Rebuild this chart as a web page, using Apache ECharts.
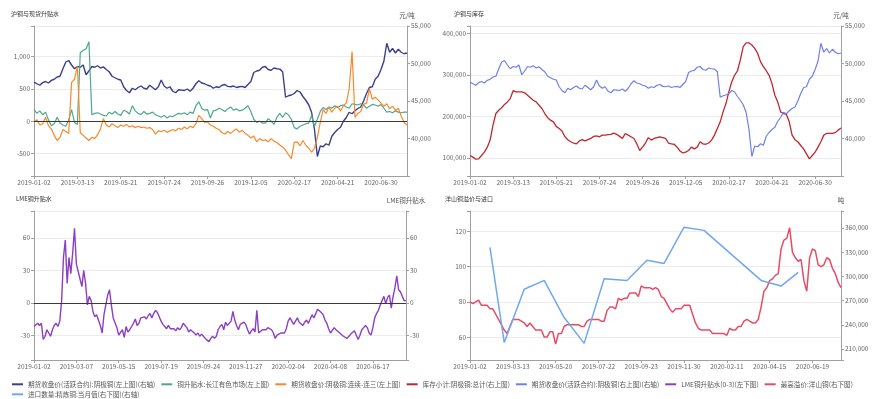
<!DOCTYPE html>
<html><head><meta charset="utf-8">
<script src="https://cdn.jsdelivr.net/npm/echarts@6/dist/echarts.min.js"></script>
<style>html,body{margin:0;padding:0;background:#fff}#c{width:884px;height:399px}</style>
</head><body><div id="c"></div><script>
// ---------- data ----------
const tradeDates = ['2019-01-02','2019-01-07','2019-01-10','2019-01-15','2019-01-18','2019-01-23','2019-01-28','2019-01-31','2019-02-12','2019-02-15','2019-02-20','2019-02-25','2019-02-28','2019-03-05','2019-03-08','2019-03-13','2019-03-18','2019-03-21','2019-03-26','2019-03-29','2019-04-03','2019-04-09','2019-04-12','2019-04-17','2019-04-22','2019-04-25','2019-04-30','2019-05-08','2019-05-13','2019-05-16','2019-05-21','2019-05-24','2019-05-29','2019-06-03','2019-06-06','2019-06-12','2019-06-17','2019-06-20','2019-06-25','2019-06-28','2019-07-03','2019-07-08','2019-07-11','2019-07-16','2019-07-19','2019-07-24','2019-07-29','2019-08-01','2019-08-06','2019-08-09','2019-08-14','2019-08-19','2019-08-22','2019-08-27','2019-08-30','2019-09-04','2019-09-09','2019-09-12','2019-09-18','2019-09-23','2019-09-26','2019-10-08','2019-10-11','2019-10-16','2019-10-21','2019-10-24','2019-10-29','2019-11-01','2019-11-06','2019-11-11','2019-11-14','2019-11-19','2019-11-22','2019-11-27','2019-12-02','2019-12-05','2019-12-10','2019-12-13','2019-12-18','2019-12-23','2019-12-26','2019-12-31','2020-01-06','2020-01-09','2020-01-14','2020-01-17','2020-01-22','2020-02-04','2020-02-07','2020-02-12','2020-02-17','2020-02-20','2020-02-25','2020-02-28','2020-03-04','2020-03-09','2020-03-12','2020-03-17','2020-03-20','2020-03-25','2020-03-30','2020-04-02','2020-04-08','2020-04-13','2020-04-16','2020-04-21','2020-04-24','2020-04-29','2020-05-07','2020-05-12','2020-05-15','2020-05-20','2020-05-25','2020-05-28','2020-06-02','2020-06-05','2020-06-10','2020-06-15','2020-06-18','2020-06-23','2020-06-30','2020-07-03','2020-07-08','2020-07-13','2020-07-16','2020-07-21','2020-07-24','2020-07-29','2020-08-03','2020-08-06'];

// 期货收盘价(活跃合约):阴极铜 (元/吨)
const futuresClose = [47530,47300,47100,47450,47600,47400,47750,47900,48200,48300,
49300,50200,50400,49800,49300,49600,49500,49800,48500,49000,
49600,49500,49700,49400,49550,49200,48900,48300,48100,47900,
47800,46900,46400,46100,46700,46500,46800,47000,46700,46600,
47100,46800,46500,46900,47800,47000,46700,46900,46300,46100,
46500,46450,46400,46600,46300,46700,47300,47700,47400,47300,
47100,47000,46700,46900,46800,47100,47200,46950,46900,47000,
46800,46900,46950,46800,47200,47600,48800,49000,49100,49500,
49600,49200,49100,49400,49300,49250,48900,45500,45700,45800,
46000,46400,46200,45600,45100,44500,43500,41200,37600,39000,
38900,39300,39100,40300,40800,41200,41500,42300,42800,43500,
43300,43700,44000,44200,45000,46000,46800,46900,47900,48300,
49200,50300,52700,51500,52000,51400,51900,51500,51300,51400];

// 铜升贴水:长江有色市场
const spotPremium = [180,120,160,100,140,20,-70,-40,60,-30,
-60,-80,20,180,-20,-50,1060,1100,1120,1230,
100,120,130,110,90,80,140,110,150,110,
90,170,150,110,240,160,120,100,150,110,
120,140,100,80,60,90,50,80,70,100,
120,110,130,100,140,120,240,300,200,170,
180,50,160,170,200,180,150,190,220,170,
190,160,170,200,240,150,30,-20,0,-30,
-30,40,0,-50,60,120,60,130,100,30,
-100,-120,-80,-60,-40,-30,90,-80,30,150,
210,180,220,200,240,210,240,250,220,200,
270,260,250,270,250,200,230,260,250,230,
260,200,140,150,130,160,140,130,140,140];

// 期货收盘价:阴极铜:连续-连三
const calendarSpread = [-10,20,-60,-40,60,-70,-120,-220,-300,-250,
-130,-160,-190,600,650,850,-180,-220,-260,-300,
-250,-270,-210,-120,40,-60,-90,-40,-70,-100,
-60,-80,-50,-90,-70,-100,-80,-100,-90,-110,
-100,-130,-200,-150,-160,-140,-170,-150,-130,-150,
-110,-130,-90,-120,-80,-100,-40,90,40,-20,
-10,-60,-80,-110,-130,-180,-200,-160,-190,-150,
-120,-170,-140,-190,-220,-260,-230,-320,-270,-300,
-290,-320,-270,-310,-330,-370,-400,-450,-520,-580,
-330,-320,-380,-300,-370,-420,-480,-420,-250,-20,
180,120,220,140,200,230,160,240,280,500,
1080,60,120,150,260,280,500,340,370,330,
280,230,270,190,230,170,200,80,-20,-60];

// 库存小计:阴极铜:总计 (吨)
const inventory = [106000,102000,97000,98000,106000,114000,126000,143000,179000,207000,
215000,221000,229000,235000,243000,262000,259000,259000,259000,257000,
251000,245000,239000,235000,227000,219000,207000,197000,191000,187000,
176000,171000,165000,151000,144000,139000,136000,134000,141000,144000,
141000,144000,147000,152000,153000,151000,155000,155000,156000,157000,
160000,157000,152000,147000,159000,155000,151000,147000,134000,118000,
126000,136000,149000,143000,147000,149000,151000,149000,147000,136000,
134000,133000,126000,117000,112000,114000,118000,126000,122000,126000,
139000,134000,133000,136000,143000,155000,171000,187000,211000,231000,
259000,283000,299000,310000,336000,368000,377000,377000,372000,364000,
352000,332000,320000,310000,299000,279000,251000,235000,211000,207000,
205000,187000,155000,144000,139000,130000,122000,110000,98000,106000,
114000,126000,139000,155000,159000,159000,159000,161000,167000,172000];

const lmeDates = ['2019-01-02','2019-01-04','2019-01-08','2019-01-10','2019-01-14','2019-01-16','2019-01-18','2019-01-22','2019-01-24','2019-01-28','2019-01-30',
'2019-02-01','2019-02-05','2019-02-07','2019-02-11','2019-02-13','2019-02-15','2019-02-19','2019-02-21','2019-02-25','2019-02-27',
'2019-03-01','2019-03-05','2019-03-07','2019-03-11','2019-03-13','2019-03-15','2019-03-19','2019-03-21','2019-03-25','2019-03-27','2019-03-29',
'2019-04-02','2019-04-04','2019-04-08','2019-04-10','2019-04-12','2019-04-16','2019-04-18','2019-04-24','2019-04-26','2019-04-30',
'2019-05-02','2019-05-07','2019-05-09','2019-05-13','2019-05-15','2019-05-17','2019-05-21','2019-05-23','2019-05-28','2019-05-30',
'2019-06-03','2019-06-05','2019-06-07','2019-06-11','2019-06-13','2019-06-17','2019-06-19','2019-06-21','2019-06-25','2019-06-27',
'2019-07-01','2019-07-03','2019-07-05','2019-07-09','2019-07-11','2019-07-15','2019-07-17','2019-07-19','2019-07-23','2019-07-25','2019-07-29','2019-07-31',
'2019-08-02','2019-08-06','2019-08-08','2019-08-12','2019-08-14','2019-08-16','2019-08-20','2019-08-22','2019-08-27','2019-08-29',
'2019-09-02','2019-09-04','2019-09-06','2019-09-10','2019-09-12','2019-09-16','2019-09-18','2019-09-20','2019-09-24','2019-09-26','2019-09-30',
'2019-10-02','2019-10-04','2019-10-08','2019-10-10','2019-10-14','2019-10-16','2019-10-18','2019-10-22','2019-10-24','2019-10-28','2019-10-30',
'2019-11-01','2019-11-05','2019-11-07','2019-11-11','2019-11-13','2019-11-15','2019-11-19','2019-11-21','2019-11-25','2019-11-27','2019-11-29',
'2019-12-03','2019-12-05','2019-12-09','2019-12-11','2019-12-13','2019-12-17','2019-12-19','2019-12-23','2019-12-27','2019-12-31',
'2020-01-03','2020-01-07','2020-01-09','2020-01-13','2020-01-15','2020-01-17','2020-01-21','2020-01-23','2020-01-27','2020-01-29','2020-01-31',
'2020-02-04','2020-02-06','2020-02-10','2020-02-12','2020-02-14','2020-02-18','2020-02-20','2020-02-24','2020-02-26','2020-02-28',
'2020-03-03','2020-03-05','2020-03-09','2020-03-11','2020-03-13','2020-03-17','2020-03-19','2020-03-23','2020-03-25','2020-03-27','2020-03-31',
'2020-04-02','2020-04-06','2020-04-08','2020-04-14','2020-04-16','2020-04-20','2020-04-22','2020-04-24','2020-04-28','2020-04-30',
'2020-05-04','2020-05-06','2020-05-11','2020-05-13','2020-05-15','2020-05-19','2020-05-21','2020-05-26','2020-05-28',
'2020-06-01','2020-06-03','2020-06-05','2020-06-09','2020-06-11','2020-06-15','2020-06-17','2020-06-19','2020-06-23','2020-06-25','2020-06-29',
'2020-07-01','2020-07-03','2020-07-07','2020-07-09','2020-07-13','2020-07-15','2020-07-17','2020-07-21','2020-07-23','2020-07-27','2020-07-29','2020-07-31',
'2020-08-04','2020-08-06'];

// LME铜升贴水(0-3)
const lmeSpread = [-22,-21,-19,-21,-19,-34,-31,-25,-28,-31,
-25,-21,-19,-22,-17,2,42,58,18,42,
27,46,69,36,29,29,15,30,18,-2,
6,2,-8,-13,-11,-16,-21,-28,-11,-2,
7,12,-2,-14,-13,-23,-30,-31,-25,-32,
-22,-27,-25,-22,-19,-15,-21,-19,-14,-14,
-13,-15,-12,-10,-14,-10,-7,-9,-10,-17,
-20,-22,-24,-21,-24,-25,-24,-26,-23,-25,
-23,-19,-18,-23,-27,-25,-25,-28,-30,-28,
-31,-29,-31,-33,-34,-36,-33,-31,-33,-31,
-25,-22,-20,-25,-18,-21,-21,-17,-8,-16,
-21,-25,-20,-19,-18,-20,-25,-29,-26,-24,
-27,-7,-28,-29,-25,-24,-25,-23,-22,-25,
-28,-33,-30,-31,-28,-29,-28,-24,-17,-14,
-13,-20,-21,-14,-18,-18,-21,-18,-16,-19,
-15,-11,-14,-15,-6,-6,-9,-11,-16,-19,
-24,-28,-29,-23,-25,-26,-28,-29,-31,-31,
-33,-31,-29,-28,-26,-30,-34,-30,-25,-23,
-21,-23,-28,-30,-23,-14,-10,-7,-2,2,
6,-1,5,7,-5,6,14,25,12,10,
9,2,2];

const premiumDates = ['2019-01-02','2019-01-07','2019-01-10','2019-01-15','2019-01-18','2019-01-23','2019-01-28','2019-01-31',
'2019-02-12','2019-02-15','2019-02-20','2019-02-25','2019-02-28',
'2019-03-05','2019-03-08','2019-03-13','2019-03-18','2019-03-21','2019-03-26','2019-03-31',
'2019-04-02','2019-04-08','2019-04-11','2019-04-16','2019-04-19','2019-04-24','2019-04-30',
'2019-05-07','2019-05-10','2019-05-15','2019-05-20','2019-05-23','2019-05-28','2019-05-31',
'2019-06-05','2019-06-11','2019-06-14','2019-06-19','2019-06-24','2019-06-27','2019-06-30',
'2019-07-04','2019-07-09','2019-07-12','2019-07-17','2019-07-22','2019-07-25','2019-07-31',
'2019-08-02','2019-08-07','2019-08-12','2019-08-15','2019-08-20','2019-08-23','2019-08-28','2019-08-31',
'2019-09-04','2019-09-09','2019-09-12','2019-09-18','2019-09-23','2019-09-26','2019-09-30',
'2019-10-11','2019-10-16','2019-10-21','2019-10-24','2019-10-29','2019-10-31',
'2019-11-06','2019-11-11','2019-11-14','2019-11-19','2019-11-22','2019-11-27','2019-11-30',
'2019-12-04','2019-12-09','2019-12-12','2019-12-17','2019-12-20','2019-12-25','2019-12-31',
'2020-01-03','2020-01-08','2020-01-13','2020-01-16','2020-01-21',
'2020-02-03','2020-02-06','2020-02-11','2020-02-14','2020-02-19','2020-02-24','2020-02-27',
'2020-03-03','2020-03-06','2020-03-11','2020-03-16','2020-03-19','2020-03-24','2020-03-27','2020-03-31',
'2020-04-07','2020-04-10','2020-04-15','2020-04-20','2020-04-23','2020-04-28','2020-04-30',
'2020-05-11','2020-05-14','2020-05-19','2020-05-22','2020-05-27','2020-05-31',
'2020-06-03','2020-06-08','2020-06-11','2020-06-16','2020-06-19','2020-06-24',
'2020-07-01','2020-07-06','2020-07-09','2020-07-14','2020-07-17','2020-07-22','2020-07-27','2020-07-30',
'2020-08-04'];

// 最高溢价:洋山铜 (美元/吨)
const yangshanPremium = [80,79,80,81,78,78,78,76,76,73,
70,67,64,62,66,70,70,70,69,68,
66,68,66,64,64,64,60,60,63,63,
56,62,62,66,67,67,67,67,67,66,
66,69,70,70,70,70,69,69,75,77,
77,76,82,81,82,82,85,85,85,83,
89,88,88,88,87,88,87,83,82,79,
76,74,76,76,76,78,78,78,73,68,
65,64,64,64,64,62,62,62,62,62,
61,65,64,64,66,66,69,70,69,68,
68,70,77,86,88,92,93,95,96,110,
115,116,122,108,105,103,104,92,86,105,
110,109,101,100,101,105,104,99,96,91,
88];

// 进口数量:精炼铜:当月值 (吨)
const importDates = ['2019-01-31','2019-02-28','2019-03-31','2019-04-30','2019-05-31','2019-06-30','2019-07-31','2019-08-31','2019-09-30','2019-10-31','2019-11-30','2019-12-31','2020-03-31','2020-04-30','2020-05-31'];
const importQty = [336000,218000,284000,295000,249000,217000,297000,295000,320000,316000,361000,357000,295000,288000,305000];

const seriesNames = [
  '期货收盘价(活跃合约):阴极铜(左上图)(右轴)',
  '铜升贴水:长江有色市场(左上图)',
  '期货收盘价:阴极铜:连续-连三(左上图)',
  '库存小计:阴极铜:总计(右上图)',
  '期货收盘价(活跃合约):阴极铜(右上图)(右轴)',
  'LME铜升贴水(0-3)(左下图)',
  '最高溢价:洋山铜(右下图)',
  '进口数量:精炼铜:当月值(右下图)(右轴)'
];
const colors = ['#3b3f8c','#4ea88c','#f7892a','#c1272d','#6e81ea','#8c3fc3','#e94b64','#6fa8f0'];

// ---------- chart ----------
const FONT = '"Noto Sans CJK SC","Noto Sans",sans-serif';
const fmt = v => Number(v).toLocaleString('en-US');
const AX = '#a0a0a0';

function xAxis(gi, data, iv) {
  return {
    type: 'category', gridIndex: gi, data: data, boundaryGap: false,
    axisLine: { onZero: false, lineStyle: { color: AX } },
    axisTick: { show: true, interval: iv, length: 3, lineStyle: { color: AX } },
    axisLabel: { interval: iv, fontSize: 6.5, color: '#666', margin: 3, fontFamily: FONT },
    splitLine: { show: false }
  };
}
function yAxis(gi, pos, min, max, step, grid, name, hideMin) {
  return {
    type: 'value', gridIndex: gi, position: pos, min: min, max: max,
    name: name || '', nameLocation: 'end', nameGap: 7,
    nameTextStyle: { fontSize: 6.5, color: '#555', fontFamily: FONT },
    axisLine: { show: true, lineStyle: { color: AX } },
    axisTick: { show: true, length: 3, lineStyle: { color: AX } },
    axisLabel: {
      fontSize: 6.5, color: '#666', margin: 4, fontFamily: FONT,
      formatter: function (v) {
        if (hideMin && v === min) return '';
        const r = v / step;
        return Math.abs(r - Math.round(r)) < 1e-9 ? fmt(v) : '';
      }
    },
    splitLine: { show: grid, lineStyle: { color: '#ececec', width: 1 } }
  };
}
function line(i, xi, yi, data, width) {
  return {
    name: seriesNames[i], type: 'line', xAxisIndex: xi, yAxisIndex: yi, data: data,
    showSymbol: false, symbol: 'none', color: colors[i],
    lineStyle: { width: width || 1.2, color: colors[i] }
  };
}
const zeroLine = {
  silent: true, symbol: 'none', label: { show: false },
  lineStyle: { color: '#3a3a3a', width: 1.2, type: 'solid' },
  data: [{ yAxis: 0 }]
};

const s1 = line(0, 0, 1, futuresClose, 1.4);
const s2 = line(1, 0, 0, spotPremium, 1.2); s2.markLine = zeroLine;
const s3 = line(2, 0, 0, calendarSpread, 1.2);
const s4 = line(3, 1, 2, inventory, 1.3);
const s5 = line(4, 1, 3, futuresClose, 1.2);
const s6 = line(5, 2, 4, lmeSpread, 1.4); s6.markLine = zeroLine;
const s7 = line(6, 3, 6, yangshanPremium, 1.5); s7.z = 3;
const s8 = line(7, 3, 7, importDates.map((d, i) => [d, importQty[i]]), 1.5);

const titleStyle = { fontSize: 6, fontWeight: 'normal', color: '#333', fontFamily: FONT };
const legendText = { fontSize: 6.6, color: '#555', fontFamily: FONT };

const option = {
  animation: false,
  backgroundColor: '#fff',
  textStyle: { fontFamily: FONT },
  title: [
    { text: '沪铜与现货升贴水', left: 11, top: 11, padding: 0, textStyle: titleStyle },
    { text: '沪铜与库存', left: 454, top: 11, padding: 0, textStyle: titleStyle },
    { text: 'LME铜升贴水', left: 16, top: 196, padding: 0, textStyle: titleStyle },
    { text: '洋山铜溢价与进口', left: 445, top: 196, padding: 0, textStyle: titleStyle }
  ],
  legend: [
    { data: seriesNames.slice(0, 7), left: 12, top: 381, width: 872, padding: 0, itemGap: 6, icon: 'rect', itemWidth: 11, itemHeight: 2, textStyle: legendText },
    { data: seriesNames.slice(7), left: 12, top: 391, width: 872, padding: 0, itemGap: 6, icon: 'rect', itemWidth: 11, itemHeight: 2, textStyle: legendText }
  ],
  grid: [
    { left: 34, top: 26, width: 373, height: 150 },
    { left: 470, top: 26, width: 371, height: 150 },
    { left: 34, top: 211, width: 372, height: 149 },
    { left: 470, top: 211, width: 371, height: 149 }
  ],
  xAxis: [
    xAxis(0, tradeDates, 14),
    xAxis(1, tradeDates, 14),
    xAxis(2, lmeDates, 22),
    xAxis(3, premiumDates, 14)
  ],
  yAxis: [
    yAxis(0, 'left', -850, 1475, 500, true),
    yAxis(0, 'right', 35000, 55000, 5000, false, '元/吨', true),
    yAxis(1, 'left', 56600, 417700, 100000, true),
    yAxis(1, 'right', 35000, 55000, 5000, false, '元/吨', true),
    yAxis(2, 'left', -53, 85, 30, true),
    yAxis(2, 'right', -53, 85, 30, false, 'LME铜升贴水'),
    yAxis(3, 'left', 47, 131.5, 20, true),
    yAxis(3, 'right', 196400, 381000, 30000, false, '吨')
  ],
  series: [s1, s2, s3, s4, s5, s6, s7, s8]
};

const chart = echarts.init(document.getElementById('c'), null, { renderer: 'canvas' });
chart.setOption(option);
</script></body></html>
